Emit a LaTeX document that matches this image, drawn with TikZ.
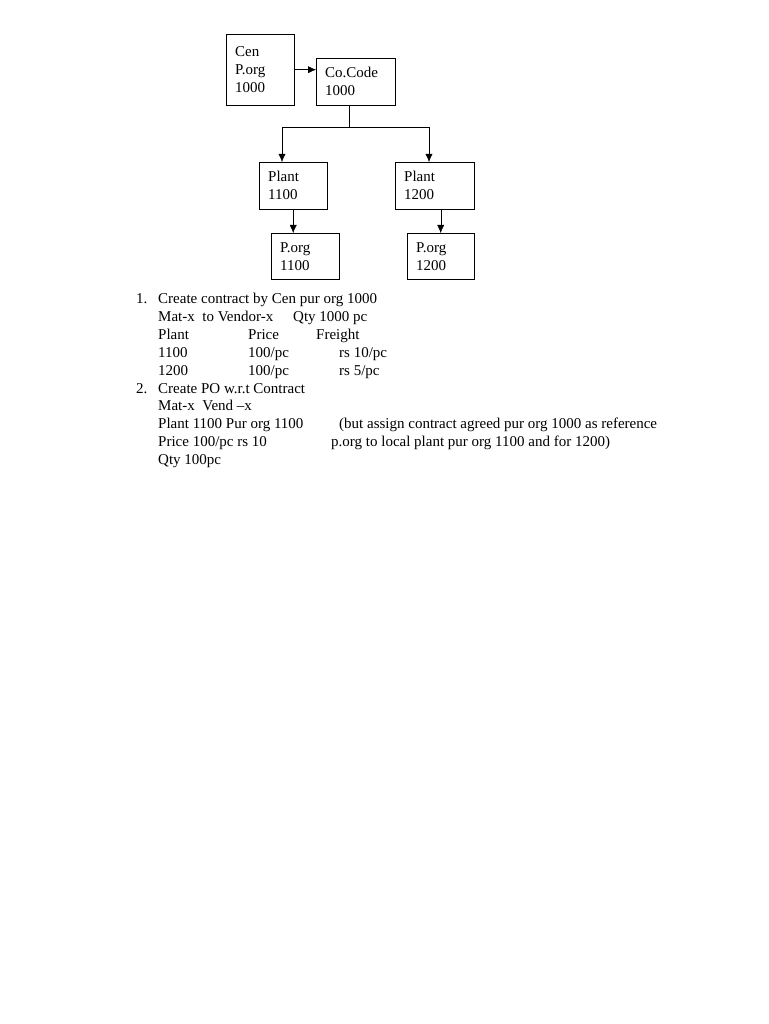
\documentclass[tikz,border=0pt]{standalone}
\usepackage{fontspec}
\setmainfont{Liberation Serif}
\usetikzlibrary{calc,positioning,arrows.meta}
\tikzset{
    blk/.style={draw, thin, anchor=north west, align=left, inner xsep=9pt, inner ysep=0pt},
    txt/.style={anchor=base west, inner sep=0pt},
    arr/.style={-{Latex[length=8pt,width=7pt]}, thin}
}
\begin{document}
\begin{tikzpicture}[x=1pt,y=-1pt,font=\fontsize{15}{18}\selectfont]
    \useasboundingbox[fill=white] (0,0) rectangle (768,1024);

    % org boxes
    \node[blk, text width=50pt, minimum height=71pt] (cen) at (226,34) {Cen\\P.org\\1000};
    \node[blk, text width=61pt, minimum height=47pt] (co) at (316,58) {Co.Code\\1000};
    \node[blk, text width=50pt, minimum height=47pt] (pl1) at (259,162) {Plant\\1100};
    \node[blk, text width=61pt, minimum height=47pt] (pl2) at (395,162) {Plant\\1200};
    \node[blk, text width=50pt, minimum height=46pt] (po1) at (271,233) {P.org\\1100};
    \node[blk, text width=49pt, minimum height=46pt] (po2) at (407,233) {P.org\\1200};

    % connectors
    \draw[arr] (cen.east) -- (cen.east -| co.west);
    \coordinate (split) at (349,127);
    \coordinate (jl) at (282,127);
    \coordinate (jr) at (429,127);
    \draw (co.south -| split) -- (split);
    \draw (jl) -- (jr);
    \draw[arr] (jl) -- (jl |- pl1.north);
    \draw[arr] (jr) -- (jr |- pl2.north);
    \draw[arr] (pl1.south) -- (pl1.south |- po1.north);
    \draw[arr] (po2.north |- pl2.south) -- (po2.north);

    % notes
    \node[txt] (n1) at (136,303) {1.};
    \node[txt] (l1) at (158,303) {Create contract by Cen pur org 1000};
    \node[txt] (l2) at (158,321) {Mat-x\ \ to Vendor-x};
    \node[txt] (l2b) at (293,321) {Qty 1000 pc};
    \foreach \y/\a/\b [count=\i] in {339/Plant/Price, 357/1100/100\slash pc, 375/1200/100\slash pc}{
        \node[txt] (ta\i) at (158,\y) {\a};
        \node[txt] (tb\i) at (248,\y) {\b};
    }
    \node[txt] (tc1) at (316,339) {Freight};
    \node[txt] (tc2) at (339,357) {rs 10/pc};
    \node[txt] (tc3) at (339,375) {rs 5/pc};
    \node[txt] (n2) at (136,393) {2.};
    \node[txt] (l3) at (158,393) {Create PO w.r.t Contract};
    \node[txt] (l4) at (158,410) {Mat-x\ \ Vend –x};
    \node[txt] (l5) at (158,428) {Plant 1100 Pur org 1100};
    \node[txt] (l5b) at (339,428) {(but assign contract agreed pur org 1000 as reference};
    \node[txt] (l6) at (158,446) {Price 100/pc rs 10};
    \node[txt] (l6b) at (331,446) {p.org to local plant pur org 1100 and for 1200)};
    \node[txt] (l7) at (158,464) {Qty 100pc};
\end{tikzpicture}
\end{document}
